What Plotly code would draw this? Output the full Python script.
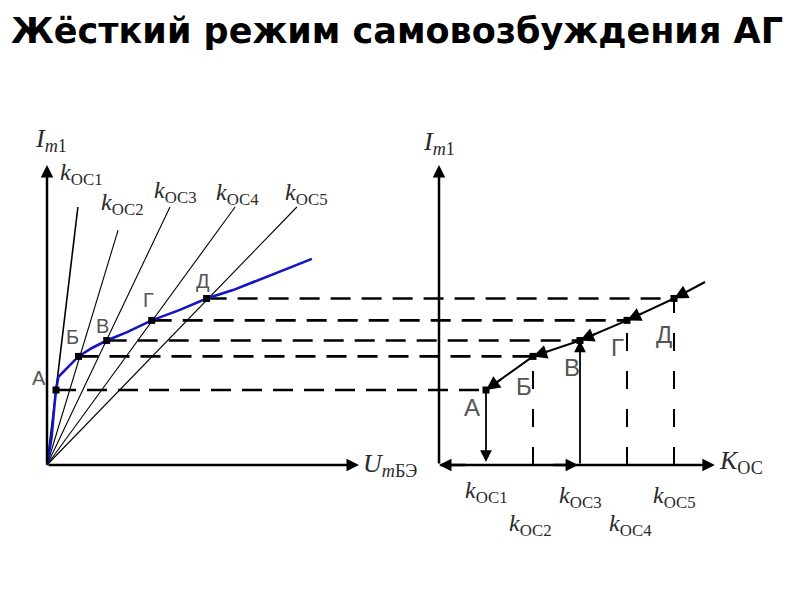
import plotly.graph_objects as go

# ---------------- data ----------------
title_text = "Жёсткий режим самовозбуждения АГ"
point_names = ["А", "Б", "В", "Г", "Д"]
k_subs = ["ОС1", "ОС2", "ОС3", "ОС4", "ОС5"]

# operating points on the amplitude characteristic (left panel)
point_U = [0.30, 1.05, 1.99, 3.49, 5.32]
point_I = [2.50, 3.62, 4.15, 4.82, 5.55]

# feedback lines k_OC1..k_OC5 (from origin to these end points)
kline_end_U = [1.03, 2.37, 4.10, 6.27, 8.33]
kline_end_I = [8.60, 7.83, 8.60, 8.60, 8.60]

# amplitude characteristic I_m1(U_mBE)
curve_U = [0.00, 0.15, 0.25, 0.30, 0.38, 0.71, 1.05, 1.50, 1.99, 2.67, 3.49, 4.43, 5.32, 6.20, 7.33, 8.83]
curve_I = [0.00, 0.90, 2.00, 2.50, 2.94, 3.28, 3.62, 3.90, 4.15, 4.43, 4.82, 5.17, 5.55, 5.83, 6.27, 6.87]

# right panel: I_m1(K_OC)
k_values = [1.0, 2.0, 3.0, 4.0, 5.0]
right_curve_K = [1.0, 2.0, 3.0, 4.0, 5.0, 5.66]
right_curve_I = [2.50, 3.62, 4.15, 4.82, 5.55, 6.10]

# axis extents
U_axis_max = 10.4
I_axis_max = 10.0
K_axis_max = 5.87

# ---------------- layout constants ----------------
W, H = 800, 600
PAGE_OFF = 8                   # the page body adds 8 px around the figure
U0_PX, U_SCALE = 47 - PAGE_OFF, 30.0   # left panel origin (px from left), px per unit
I0_PX, I_SCALE = 465 - PAGE_OFF, 30.0  # origin (px from top), px per unit
K0_PX, K_SCALE = 439 - PAGE_OFF, 47.0  # right panel origin, px per unit

x_range = [(0 - U0_PX) / U_SCALE, (W - U0_PX) / U_SCALE]
y_range = [(I0_PX - H) / I_SCALE, I0_PX / I_SCALE]
x2_range = [(0 - K0_PX) / K_SCALE, (W - K0_PX) / K_SCALE]


def k_to_u(k):
    """convert a K_OC value to the left-panel U axis coordinate"""
    return (K0_PX + k * K_SCALE - U0_PX) / U_SCALE


BLACK = "#000000"
BLUE = "#1414c4"
SERIF = "Liberation Serif"
SANS = "Liberation Sans"
LBL_COLOR = "#555555"
SERIF_COLOR = "#2a2a2a"

fig = go.Figure()

# feedback lines
for i in range(5):
    fig.add_trace(go.Scatter(x=[0, kline_end_U[i]], y=[0, kline_end_I[i]], mode="lines",
                             line=dict(color=BLACK, width=1.6 if i == 0 else 1.1),
                             hoverinfo="skip", showlegend=False))

# dashed connectors between panels
for i in range(5):
    fig.add_trace(go.Scatter(x=[point_U[i], k_to_u(k_values[i])], y=[point_I[i], point_I[i]],
                             mode="lines", line=dict(color=BLACK, width=2.6, dash="20px,11px"),
                             hoverinfo="skip", showlegend=False))

# amplitude characteristic (blue)
fig.add_trace(go.Scatter(x=curve_U, y=curve_I, mode="lines",
                         line=dict(color=BLUE, width=2.6), hoverinfo="skip", showlegend=False))

# right curve
fig.add_trace(go.Scatter(x=right_curve_K, y=right_curve_I, mode="lines", xaxis="x2", yaxis="y",
                         line=dict(color=BLACK, width=2), hoverinfo="skip", showlegend=False))

# vertical dashed drops (k2, k4, k5)
for i in [1, 3, 4]:
    fig.add_trace(go.Scatter(x=[k_values[i], k_values[i]], y=[0, point_I[i]], mode="lines",
                             xaxis="x2", yaxis="y",
                             line=dict(color=BLACK, width=2, dash="18px,20px"),
                             hoverinfo="skip", showlegend=False))

# markers
fig.add_trace(go.Scatter(x=point_U, y=point_I, mode="markers",
                         marker=dict(symbol="square", size=7, color=BLACK),
                         hoverinfo="skip", showlegend=False))
fig.add_trace(go.Scatter(x=k_values, y=point_I, mode="markers", xaxis="x2", yaxis="y",
                         marker=dict(symbol="square", size=7, color=BLACK),
                         hoverinfo="skip", showlegend=False))

ann = []


def arrow(x, y, ax, ay, xr="x", width=2.5, size=1.0, head=2):
    ann.append(dict(x=x, y=y, ax=ax, ay=ay, xref=xr, yref="y", axref=xr, ayref="y",
                    text="", showarrow=True, arrowhead=head, arrowsize=size,
                    arrowwidth=width, arrowcolor=BLACK, standoff=0, startstandoff=0))


# axes
arrow(0, I_axis_max, 0, 0)
arrow(U_axis_max, 0, 0, 0)
arrow(0, I_axis_max, 0, 0, xr="x2")
arrow(K_axis_max, 0, 0, 0, xr="x2")
arrow(0.0, 0, 0.6, 0, xr="x2")
arrow(k_values[2] - 0.04, 0, k_values[2] - 0.6, 0, xr="x2")

# vertical solid arrows (k1 down, k3 up)
arrow(k_values[0], 0.1, k_values[0], point_I[0], xr="x2", width=1.8, size=1.3)
arrow(k_values[2], point_I[2], k_values[2], 0, xr="x2", width=1.8, size=1.3)

# arrows along the right curve (towards smaller K)
for i in range(5):
    tx = right_curve_K[i] + 0.35 * (right_curve_K[i + 1] - right_curve_K[i])
    ty = right_curve_I[i] + 0.35 * (right_curve_I[i + 1] - right_curve_I[i])
    arrow(right_curve_K[i], right_curve_I[i], tx, ty, xr="x2", width=2, size=1.4)

# point labels
left_lbl_shift = [(-17, 12), (-6, 19), (-4, 15), (-3, 20), (-4, 18)]
right_lbl_shift = [(-14, -17), (-9, -30), (-8, -27), (-10, -27), (-10, -36)]
for i, name in enumerate(point_names):
    ann.append(dict(x=point_U[i], y=point_I[i], xref="x", yref="y", text=name, showarrow=False,
                    xshift=left_lbl_shift[i][0], yshift=left_lbl_shift[i][1],
                    font=dict(family=SANS, size=20, color=LBL_COLOR)))
    ann.append(dict(x=k_values[i], y=point_I[i], xref="x2", yref="y", text=name, showarrow=False,
                    xshift=right_lbl_shift[i][0], yshift=right_lbl_shift[i][1],
                    font=dict(family=SANS, size=24, color=LBL_COLOR)))

# k_OC labels
kl_shift = [(4, 33), (4, 26), (5, 15), (2, 13), (10, 13)]
kr_shift = [(0, -27), (-3, -60), (0, -32), (3, -60), (0, -32)]
for i, s in enumerate(k_subs):
    txt = "<i>k</i><sub>%s</sub>" % s
    ann.append(dict(x=kline_end_U[i], y=kline_end_I[i], xref="x", yref="y", text=txt,
                    showarrow=False, xshift=kl_shift[i][0], yshift=kl_shift[i][1],
                    font=dict(family=SERIF, size=24, color=SERIF_COLOR)))
    ann.append(dict(x=k_values[i], y=0, xref="x2", yref="y", text=txt,
                    showarrow=False, xshift=kr_shift[i][0], yshift=kr_shift[i][1],
                    font=dict(family=SERIF, size=24, color=SERIF_COLOR)))

# axis titles
ann.append(dict(x=0, y=I_axis_max, xref="x", yref="y", text="<i>I</i><sub><i>m</i>1</sub>",
                showarrow=False, xshift=4, yshift=25, font=dict(family=SERIF, size=26, color=SERIF_COLOR)))
ann.append(dict(x=0, y=I_axis_max, xref="x2", yref="y", text="<i>I</i><sub><i>m</i>1</sub>",
                showarrow=False, xshift=0, yshift=22, font=dict(family=SERIF, size=26, color=SERIF_COLOR)))
ann.append(dict(x=U_axis_max, y=0, xref="x", yref="y", text="<i>U</i><sub><i>m</i>БЭ</sub>",
                showarrow=False, xanchor="left", xshift=2, yshift=0,
                font=dict(family=SERIF, size=26, color=SERIF_COLOR)))
ann.append(dict(x=K_axis_max, y=0, xref="x2", yref="y", text="<i>K</i><sub>ОС</sub>",
                showarrow=False, xanchor="left", xshift=2, yshift=3,
                font=dict(family=SERIF, size=26, color=SERIF_COLOR)))

# title
ann.append(dict(x=(397 - PAGE_OFF) / W, y=1 - (31 - PAGE_OFF) / H, xref="paper", yref="paper",
                text="<b>%s</b>" % title_text, showarrow=False, yanchor="middle",
                font=dict(family="DejaVu Sans", size=35, color=BLACK)))

fig.update_layout(
    width=W, height=H, margin=dict(l=0, r=0, t=0, b=0),
    paper_bgcolor="white", plot_bgcolor="white", showlegend=False,
    xaxis=dict(range=x_range, domain=[0, 1], visible=False, showgrid=False, zeroline=False),
    xaxis2=dict(range=x2_range, overlaying="x", anchor="y", visible=False, showgrid=False, zeroline=False),
    yaxis=dict(range=y_range, domain=[0, 1], visible=False, showgrid=False, zeroline=False),
    annotations=ann,
)

fig.write_html("out.html")
